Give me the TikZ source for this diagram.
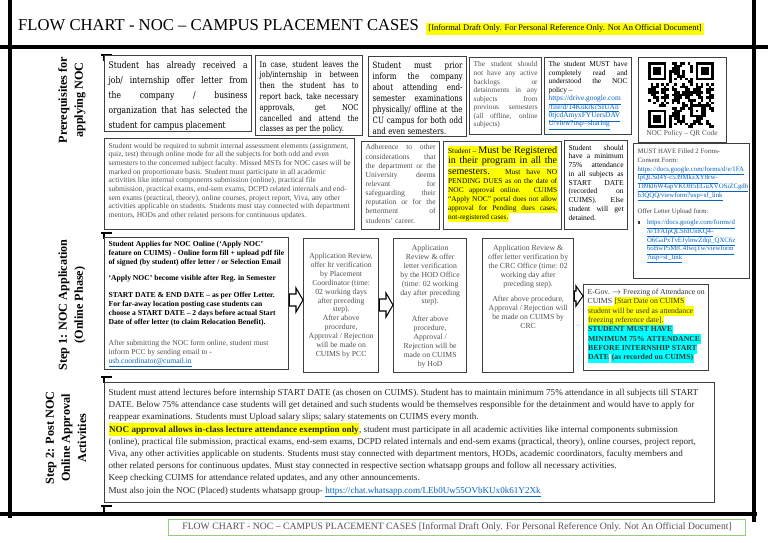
\documentclass[tikz,border=0pt]{standalone}
\usepackage{fontspec}
\setmainfont{Liberation Serif}
\newfontfamily\slabfont{DejaVu Serif}[FakeStretch=0.82]
\usetikzlibrary{calc}

\definecolor{boxgray}{HTML}{3F3F3F}
\definecolor{textgray}{HTML}{505050}
\definecolor{linkblue}{HTML}{0563C1}
\definecolor{hlyellow}{HTML}{FFFF00}
\definecolor{hlcyan}{HTML}{00FFFF}
\definecolor{footgreen}{HTML}{9BCB7A}

\newlength\pxu
\setlength\pxu{0.03cm}

% text helpers
\newcommand{\cellbox}[4]{\parbox[t][\dimexpr#2\pxu-6\pxu\relax][#3]{\dimexpr#1\pxu-8\pxu\relax}{\lineskiplimit=-5pt #4}}
\newcommand{\jl}[1]{\makebox[\linewidth][s]{#1}\\}
\newcommand{\weblink}[1]{\textcolor{linkblue}{\underline{#1}}}
\newcommand{\hly}[1]{{\fboxsep=0.4pt\colorbox{hlyellow}{\strut #1}}}
\newcommand{\hlc}[1]{{\fboxsep=0.4pt\colorbox{hlcyan}{\strut #1}}}
\newcommand{\hljl}[2][0pt]{{\fboxsep=0.4pt\colorbox{hlyellow}{\makebox[\dimexpr\linewidth-0.8pt][s]{\strut #2}}}\\[#1]}
% hollow block arrow between two boxes
\newcommand{\blockarrow}[4]{%
  \draw[blockarrow] ($(#1.east |- #3)+(0,-#4)$) -- ($(#2.west |- #3)+(-7,-#4)$)
    -- ($(#2.west |- #3)+(-7,-2*#4)$) -- (#2.west |- #3)
    -- ($(#2.west |- #3)+(-7,2*#4)$) -- ($(#2.west |- #3)+(-7,#4)$)
    -- ($(#1.east |- #3)+(0,#4)$) -- cycle;}
\newcommand{\qrfinder}[2]{%
  \fill (#1,#2) rectangle ++(18.48,18.48);
  \fill[white] (#1+2.64,#2+2.64) rectangle ++(13.2,13.2);
  \fill (#1+5.28,#2+5.28) rectangle ++(7.92,7.92);}

\begin{document}
\begin{tikzpicture}[x=0.03cm, y=-0.03cm,
    cell/.style={draw=boxgray, line width=1.1pt, anchor=north west, inner xsep=3.41pt, inner ysep=2.56pt},
    frame/.style={line width=2.6pt},
    tickmark/.style={line width=1.2pt},
    steplabel/.style={rotate=90, align=center, inner sep=0pt, font=\bfseries\fontsize{10.4}{13.7}\selectfont},
    blockarrow/.style={draw=black, fill=white, line width=0.9pt, line join=miter}
]
\useasboundingbox (0,0) rectangle (768,543);

% frame of the table
\draw[frame] (0,47) -- (768,47);
\draw[frame] (0,514) -- (757,514);
\draw[frame] (10,0) -- (10,518);
\draw[frame] (754,0) -- (754,522);
\foreach \ty in {55,233,377,506}
  \draw[tickmark] (101,\ty) -- (112,\ty) (104,\ty) -- (104,\ty+6);

% title
\node[anchor=base west, inner sep=0pt, font=\fontsize{14.2}{16}\selectfont] (title) at (18,31) {FLOW CHART - NOC – CAMPUS PLACEMENT CASES};
\node[anchor=base west, inner sep=0pt, font=\fontsize{7.25}{9}\selectfont] (draftnote) at ($(title.base east)+(7,0)$) {{\fboxsep=1.8pt\colorbox{hlyellow}{[Informal Draft Only. For Personal Reference Only. Not An Official Document]}}};

% row labels
\node[steplabel] (prereq) at (72,100) {Prerequisites for\\applying NOC};
\node[steplabel] (stepone) at (72,305) {Step 1: NOC Application\\(Online Phase)};
\node[steplabel] (steptwo) at (66,438) {Step 2: Post NOC\\Online Approval\\Activities};

% prerequisites
\node[cell, font=\slabfont\fontsize{7.9}{12.8}\selectfont] (offer) at (104,55) {\cellbox{147}{76}{t}{\vspace*{2pt}%
\jl{Student has already received a}\jl{job/ internship offer letter from}\jl{the company / business}\jl{organization that has selected the}student for campus placement}};
\node[cell, font=\slabfont\fontsize{7.0}{9.2}\selectfont] (leave) at (255,55) {\cellbox{107}{80}{t}{\vspace*{2pt}%
\jl{In case, student leaves the}\jl{job/internship in between}\jl{then the student has to}\jl{report back, take necessary}\jl{approvals, get NOC}\jl{cancelled and attend the}classes as per the policy.}};
\node[cell, font=\slabfont\fontsize{7.4}{9.4}\selectfont] (exams) at (368,56) {\cellbox{98}{80}{t}{\vspace*{2pt}%
\jl{Student must prior}\jl{inform the company}\jl{about attending end-}\jl{semester examinations}\jl{physically/ offline at the}\jl{CU campus for both odd}and even semesters.}};
\node[cell, text=textgray, font=\fontsize{6.3}{7.3}\selectfont] (backlog) at (469,57) {\cellbox{72}{77}{t}{\vspace*{1pt}%
\jl{The student should}\jl{not have any active}\jl{backlogs or}\jl{detainments in any}\jl{subjects from}\jl{previous semesters}\jl{(all offline, online}subjects)}};
\node[cell, font=\fontsize{6.3}{7.2}\selectfont] (policy) at (544,57) {\cellbox{87}{77}{t}{\vspace*{1pt}%
\jl{The student MUST have}\jl{completely read and}\jl{understood the NOC}policy –\\
\weblink{https://drive.google.com}\\
\weblink{/file/d/14KukrkcSIUAn}\\
\weblink{0tjcdAmyxFYUersDAV}\\
\weblink{U/view?usp=sharing}}};
\node[cell, inner sep=0pt, minimum width=2.64cm, minimum height=2.55cm] (qr) at (638,57) {};
\foreach \i in {0,...,24}{
  \foreach \j in {0,...,24}{
    \pgfmathtruncatemacro{\qrbit}{((\i<8 && \j<8) || (\i>16 && \j<8) || (\i<8 && \j>16)) ? 0 : (mod(3*\i*\i+5*\j*\j+7*\i*\j+11*\i+13*\j,17)<8 ? 1 : 0)}
    \ifnum\qrbit=1 \fill (648+2.64*\i,62+2.64*\j) rectangle ++(2.64,2.64);\fi
  }
}
\qrfinder{648}{62}
\qrfinder{695.52}{62}
\qrfinder{648}{109.52}
\fill (690.24,104.24) rectangle ++(13.2,13.2);
\fill[white] (692.88,106.88) rectangle ++(7.92,7.92);
\fill (695.52,109.52) rectangle ++(2.64,2.64);
\node[anchor=base, text=textgray, font=\fontsize{6.3}{7.5}\selectfont] (qrcap) at (682,136) {NOC Policy – QR Code};

\node[cell, text=textgray, font=\fontsize{6.45}{7.4}\selectfont] (internal) at (104,138) {\cellbox{250}{91}{t}{\vspace*{1pt}%
Student would be required to submit internal assessment elements (assignment,\\
quiz, test) through online mode for all the subjects for both odd and even\\
semesters to the concerned subject faculty. Missed MSTs for NOC cases will be\\
marked on proportionate basis. Student must participate in all academic\\
activities like internal components submission (online), practical file\\
submission, practical exams, end-sem exams, DCPD related internals and end-\\
sem exams (practical, theory), online courses, project report, Viva, any other\\
activities applicable on students. Students must stay connected with department\\
mentors, HODs and other related persons for continuous updates.}};
\node[cell, text=textgray, font=\fontsize{6.5}{7.8}\selectfont] (adhere) at (361,141) {\cellbox{78}{88}{t}{%
\jl{Adherence to other}\jl{considerations that}\jl{the department or the}\jl{University deems}\jl{relevant for}\jl{safeguarding their}\jl{reputation or for the}\jl{betterment of}students’ career.}};
\node[cell, font=\fontsize{6.3}{7.6}\selectfont] (register) at (443,141) {\cellbox{118}{88}{t}{\vspace*{1pt}%
\hljl[1.5pt]{Student – {\fontsize{8.6}{10}\selectfont Must be Registered}}
\hljl[1.5pt]{\fontsize{8.6}{10}\selectfont in their program in all the}
\hljl{{\fontsize{8.6}{10}\selectfont semesters.} Must have NO}
\hljl{PENDING DUES as on the date of}
\hljl{NOC approval online. CUIMS}
\hljl{“Apply NOC” portal does not allow}
\hljl{approval for Pending dues cases,}
\hly{not-registered cases.}}};
\node[cell, font=\fontsize{6.4}{7.5}\selectfont] (attend) at (564,140) {\cellbox{63}{89}{t}{\vspace*{1pt}%
\jl{Student should}\jl{have a minimum}\jl{75\% attendance}\jl{in all subjects as}\jl{START DATE}\jl{(recorded on}\jl{CUIMS). Else}\jl{student will get}detained.}};
\node[cell, text=black!75, font=\fontsize{5.8}{7.4}\selectfont] (forms) at (633,143) {\cellbox{116}{135}{t}{\vspace*{2pt}%
MUST HAVE Filled 2 Forms-\\
Consent Form:\\
\weblink{https://docs.google.com/forms/d/e/1FA}\\
\weblink{IpQLSd4Y-c539MkzXY8rw-}\\
\weblink{T89kl6W4apVKOH5EGuXVOSiZCgdb}\\
\weblink{b3QQQ/viewform?usp=sf\_link}\\[7pt]
Offer Letter Upload form:\\[2pt]
\makebox[8pt][l]{\rule[1pt]{2pt}{2pt}}\weblink{https://docs.google.com/forms/d}\\
\hspace*{8pt}\weblink{/e/1FAIpQLSfdUnKQ4-}\\
\hspace*{8pt}\weblink{O6GaPxTvEJylnwZdqi\_QXC6z}\\
\hspace*{8pt}\weblink{6oBwP5MtC4fwqTw/viewform}\\
\hspace*{8pt}\weblink{?usp=sf\_link}}};

% step 1
\node[cell, font=\fontsize{6.5}{7.7}\selectfont] (apply) at (104,237) {\cellbox{184}{132}{t}{\bfseries
Student Applies for NOC Online (‘Apply NOC’\\
feature on CUIMS) - Online form fill + upload pdf file\\
of signed (by student) offer letter / or Selection Email\\[6pt]
‘Apply NOC’ become visible after Reg. in Semester\\[7pt]
START DATE \& END DATE – as per Offer Letter.\\
For far-away location posting case students can\\
choose a START DATE – 2 days before actual Start\\
Date of offer letter (to claim Relocation Benefit).\\[10pt]
\mdseries\color{textgray}After submitting the NOC form online, student must\\
inform PCC by sending email to -\\
\weblink{usb.coordinator@cumail.in}}};
\node[cell, text=textgray, font=\fontsize{6.6}{7.6}\selectfont] (pccrev) at (303,238) {\cellbox{75}{134}{c}{\centering
Application Review,\\ offer ltr verification\\ by Placement\\ Coordinator (time:\\ 02 working days\\ after preceding\\ step).\\ After above\\ procedure,\\ Approval / Rejection\\ will be made on\\ CUIMS by PCC}};
\node[cell, text=textgray, font=\fontsize{6.6}{7.6}\selectfont] (hodrev) at (393,238) {\cellbox{73}{134}{t}{\centering\vspace*{3pt}
Application\\ Review \& offer\\ letter verification\\ by the HOD Office\\ (time: 02 working\\ day after preceding\\ step).\\[7.6pt] After above\\ procedure,\\ Approval /\\ Rejection will be\\ made on CUIMS\\ by HoD}};
\node[cell, text=textgray, font=\fontsize{6.6}{7.7}\selectfont] (crcrev) at (482,238) {\cellbox{91}{134}{t}{\centering\vspace*{3pt}
Application Review \&\\ offer letter verification by\\ the CRC Office (time: 02\\ working day after\\ preceding step).\\[5pt] After above procedure,\\ Approval / Rejection will\\ be made on CUIMS by\\ CRC}};
\node[cell, text=black!80, font=\fontsize{6.6}{8.0}\selectfont] (egov) at (583,284) {\cellbox{125}{86}{t}{\vspace*{1pt}%
E-Gov. $\rightarrow$ Freezing of Attendance on\\
CUIMS \hly{[Start Date on CUIMS}\\
\hly{student will be used as attendance}\\
\hly{freezing reference date].}\\
\hlc{\textbf{STUDENT MUST HAVE}}\\
\hlc{\textbf{MINIMUM 75\% ATTENDANCE}}\\
\hlc{\textbf{BEFORE INTERNSHIP START}}\\
\hlc{\textbf{DATE}} \hlc{\textbf{(as recorded on CUIMS)}}}};

\coordinate (ygl) at (0,300);
\coordinate (ylm) at (0,305);
\coordinate (yno) at (0,296);
\blockarrow{apply}{pccrev}{ygl}{6}
\blockarrow{pccrev}{hodrev}{ylm}{6}
\blockarrow{crcrev}{egov}{yno}{5}

% step 2
\node[cell, text=black!85, font=\fontsize{7.75}{10.4}\selectfont] (postnoc) at (104,382) {\cellbox{610}{120}{t}{\vspace*{3pt}%
Student must attend lectures before internship START DATE (as chosen on CUIMS). Student has to maintain minimum 75\% attendance in all subjects till START\\
DATE. Below 75\% attendance case students will get detained and such students would be themselves responsible for the detainment and would have to apply for\\
reappear examinations. Students must Upload salary slips; salary statements on CUIMS every month.\\
\hly{\textbf{NOC approval allows in-class lecture attendance exemption only}}, student must participate in all academic activities like internal components submission\\
(online), practical file submission, practical exams, end-sem exams, DCPD related internals and end-sem exams (practical, theory), online courses, project report,\\
Viva, any other activities applicable on students. Students must stay connected with department mentors, HODs, academic coordinators, faculty members and\\
other related persons for continuous updates. Must stay connected in respective section whatsapp groups and follow all necessary activities.\\
Keep checking CUIMS for attendance related updates, and any other announcements.\\
Must also join the NOC (Placed) students whatsapp group- \weblink{https://chat.whatsapp.com/LEb0Uw55OVbKUx0k61Y2Xk}}};

% footer
\node[draw=footgreen, line width=1pt, anchor=north west, minimum width=17.31cm, minimum height=0.48cm, inner sep=0pt, text=textgray, font=\fontsize{8.3}{9}\selectfont] (footer) at (168,519) {FLOW CHART - NOC – CAMPUS PLACEMENT CASES [Informal Draft Only. For Personal Reference Only. Not An Official Document]};
\end{tikzpicture}
\end{document}
